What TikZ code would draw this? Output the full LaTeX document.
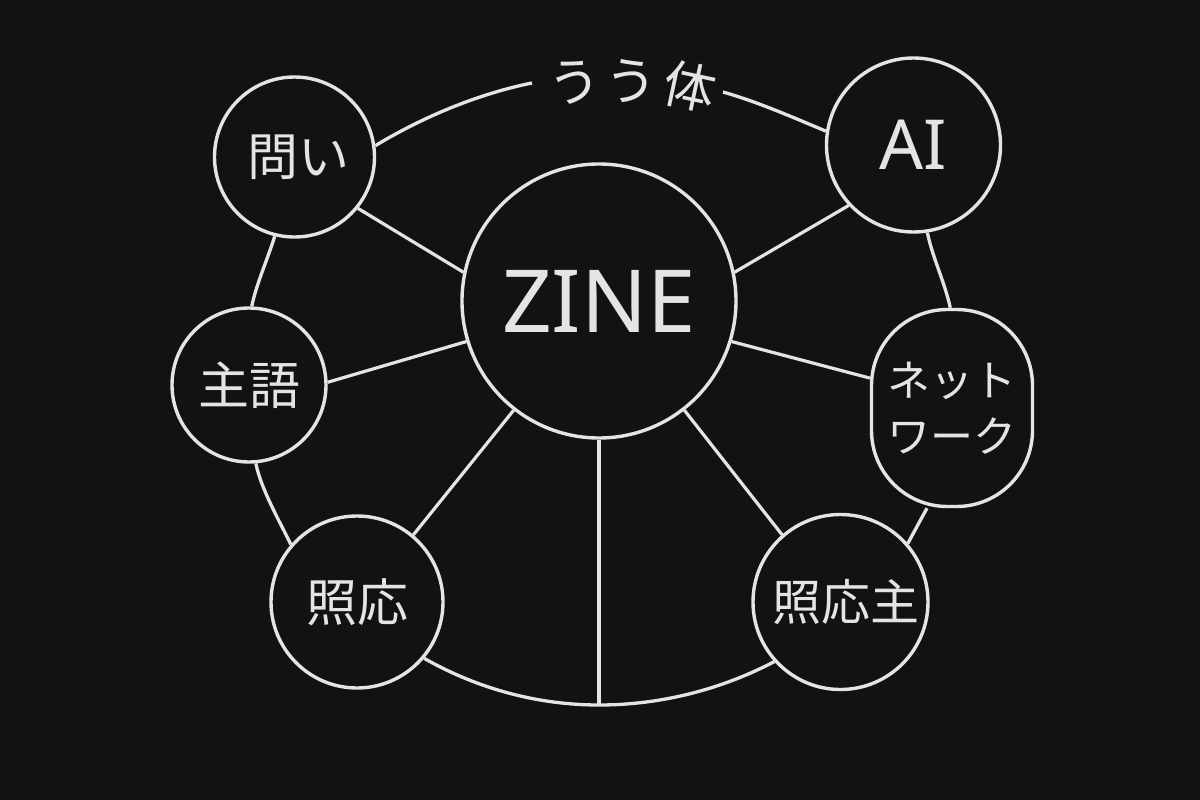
\documentclass[tikz,border=0pt]{standalone}
\usepackage{fontspec}
\setmainfont{Noto Sans CJK JP}
\newfontfamily\latinfont{Noto Sans}
\definecolor{bg}{RGB}{18,18,18}
\definecolor{fg}{RGB}{228,228,228}
\begin{document}
\begin{tikzpicture}[x=1pt,y=-1pt,
  ring/.style={draw=fg,line width=3.3pt},
  link/.style={draw=fg,line width=3.2pt},
  ball/.style={circle,draw=fg,line width=3.4pt,inner sep=0pt,text=fg,font=\fontsize{51}{51}\selectfont},
  glyph/.style={text=fg,inner sep=0pt,font=\fontsize{52}{52}\selectfont}]
\fill[bg] (0,0) rectangle (1200,800);
\useasboundingbox (0,0) rectangle (1200,800);
% nodes
\node[ball,minimum size=274pt,font=\latinfont\fontsize{87}{87}\selectfont] (zine) at (599,301) {ZINE};
\node[ball,minimum size=160pt] (q) at (294.5,157) {\hspace*{8pt}問い};
\node[ball,minimum size=174pt,font=\latinfont\fontsize{69}{69}\selectfont] (ai) at (913.5,145) {AI};
\node[ball,minimum size=154pt] (su) at (249,385) {主語};
\node[ball,minimum size=172pt] (sho) at (357,602) {照応};
\node[ball,minimum size=175pt,font=\fontsize{49}{49}\selectfont] (shs) at (840.5,602) {\hspace*{10pt}照応主};
\node[draw=fg,line width=3.4pt,rectangle,rounded corners=76pt,minimum width=161pt,minimum height=197pt,inner sep=0pt,text=fg,align=center,font=\fontsize{43}{56}\selectfont] (net) at (952,408) {ネット\\ワーク};
% free ends
\coordinate (t1) at (532,83);
\coordinate (t2) at (723,92);
\coordinate (bot) at (599,705);
% ring
\draw[ring] (q.8) .. controls (426,115) and (482,93) .. (t1);
\draw[ring] (t2) .. controls (758,102) and (792,117) .. (ai.171);
\draw[ring] (ai.-81) .. controls (932,256) and (945,283) .. (net.91);
\draw[ring] (q.256) .. controls (268,258) and (256,285) .. (su.88);
\draw[ring] (su.-85) .. controls (261,489) and (279,520) .. (sho.139);
\draw[ring] (sho.-40) .. controls (480,690) and (540,705) .. (bot) .. controls (660,705) and (720,690) .. (shs.222);
\draw[ring] (shs.41) .. controls (914,532) and (921,519) .. (net.256);
% spokes
\draw[link] (zine.168) -- (q.-39);
\draw[link] (zine.12) -- (ai.223);
\draw[link] (zine.197) -- (su.2);
\draw[link] (zine.-17) -- (net.160);
\draw[link] (zine.232) -- (sho.50);
\draw[link] (zine.-52) -- (shs.131);
\draw[link] (zine.south) -- (bot);
% ring label
\node[glyph,rotate=8] (u1) at (575,82) {う};
\node[glyph,rotate=-2] (u2) at (631,81) {う};
\node[glyph,rotate=-12] (tai) at (690,87) {体};
\end{tikzpicture}
\end{document}
